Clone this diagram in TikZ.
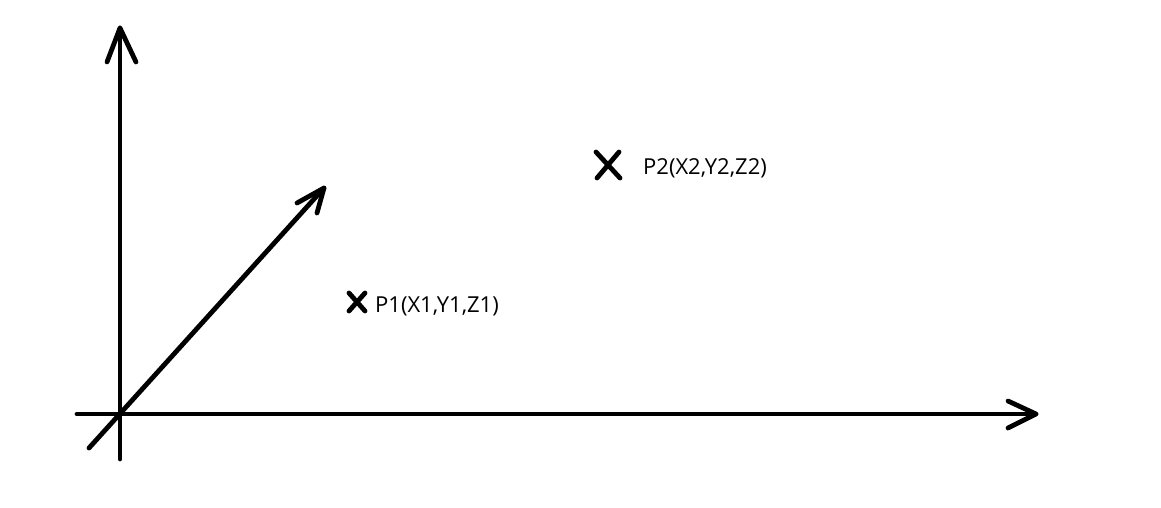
\documentclass[tikz,border=0pt]{standalone}
\usepackage{fontspec}
\setmainfont{Open Sans}
\usetikzlibrary{calc}
\begin{document}
\begin{tikzpicture}[x=1pt,y=-1pt,
  axis/.style={line width=4.8pt,line cap=round,line join=round,black},
  cross/.style={line width=4.8pt,line cap=round,black},
  lbl/.style={inner sep=0pt,anchor=base west,font=\fontsize{22}{26}\selectfont}]
\useasboundingbox (0,0) rectangle (1161,507);
% coordinates
\coordinate (O) at (120,414);
\coordinate (ytop) at (120,28);
\coordinate (ybot) at (120,459);
\coordinate (xleft) at (77,414);
\coordinate (xtip) at (1036,414);
\coordinate (dbot) at (89,448);
\coordinate (dtip) at (324,188);
% vertical axis
\draw[axis] (ybot) -- (ytop);
\draw[axis] (107,62) -- (ytop) -- (136,62);
% horizontal axis
\draw[axis] (xleft) -- (xtip);
\draw[axis] (1008,401) -- (xtip) -- (1008,428);
% diagonal axis
\draw[axis] (dbot) -- (dtip);
\draw[axis] (297,203) -- (dtip) -- (317,213);
% points
\coordinate (p1) at (357,302);
\coordinate (p2) at (608,165);
\draw[cross] ($(p1)+(-8,-9)$) -- ($(p1)+(8,9)$);
\draw[cross] ($(p1)+(8,-9)$) -- ($(p1)+(-8,9)$);
\draw[cross] ($(p2)+(-12,-13)$) -- ($(p2)+(12,13)$);
\draw[cross] ($(p2)+(11,-13)$) -- ($(p2)+(-11,13)$);
\node[lbl] (l1) at (375,312) {P1(X1,Y1,Z1)};
\node[lbl] (l2) at (643,174) {P2(X2,Y2,Z2)};
\end{tikzpicture}
\end{document}
